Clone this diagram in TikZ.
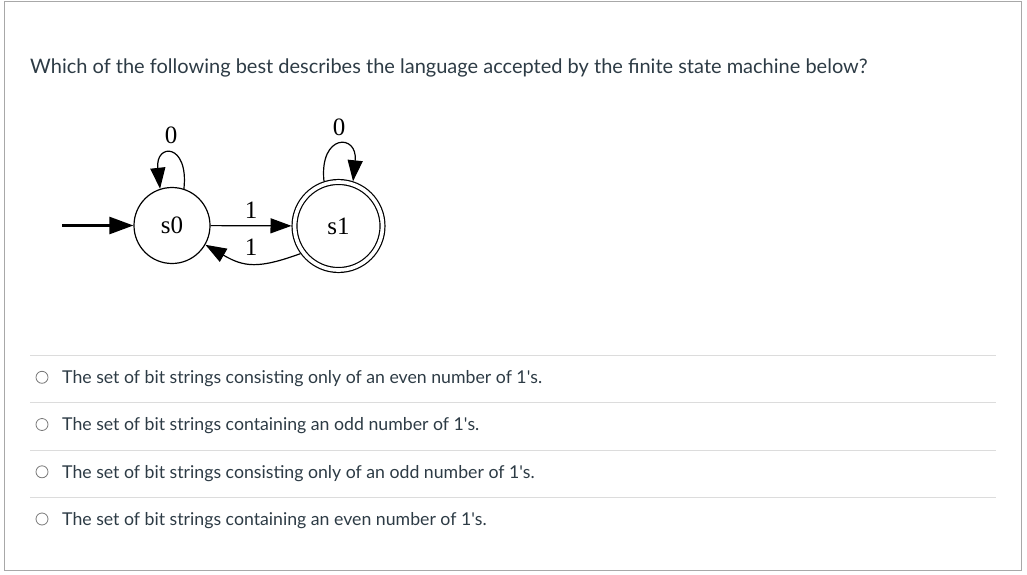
\documentclass[tikz,border=0pt]{standalone}
\usepackage{fontspec}
\setmainfont{Lato}
\newfontfamily\graphfont{Liberation Serif}
\usetikzlibrary{arrows.meta}

\definecolor{canvastext}{HTML}{2D3B45}
\definecolor{framegray}{HTML}{A8A8A8}
\definecolor{rulegray}{HTML}{DCDCDC}
\definecolor{radiogray}{HTML}{7A7A7A}

\tikzset{
	state/.style={circle, draw, line width=1.2pt, minimum size=76pt, inner sep=0pt, font=\graphfont\fontsize{25}{25}\selectfont},
	finalstate/.style={state, minimum size=88pt, double, double distance=3.7pt, outer sep=3pt},
	trans/.style={-{Triangle[length=21pt,width=15pt]}, line width=1.2pt},
	initarrow/.style={-{Triangle[length=24pt,width=17pt]}, line width=2.6pt},
	lbl/.style={font=\graphfont\fontsize{25}{25}\selectfont, inner sep=0pt},
	question/.style={anchor=base west, inner sep=0pt, text=canvastext, font=\fontsize{20}{24}\selectfont},
	option/.style={anchor=base west, inner sep=0pt, text=canvastext, font=\fontsize{17.7}{21}\selectfont},
	radio/.style={circle, draw=radiogray, line width=0.8pt, minimum size=12pt, inner sep=0pt},
	divider/.style={rulegray, line width=1pt}
}

\begin{document}
\begin{tikzpicture}[x=1pt, y=1pt]
	\useasboundingbox (0,0) rectangle (1027,-575);
	\draw[framegray, line width=1pt] (4.5,-1.5) rectangle (1021.5,-570);

	\node[question] (q) at (30,-74) {Which of the following best describes the language accepted by the finite state machine below?};

	% the machine
	\node[state] (s0) at (172,-225.5) {s0};
	\node[finalstate] (s1) at (338.5,-226) {s1};
	\coordinate (init) at (62,-225.5);
	\draw[initarrow] (init) -- (s0);
	\draw[trans] (s0.72) .. controls +(5,46) and +(-5,46) .. (s0.108);
	\draw[trans] (s1.108) .. controls +(-5,48) and +(5,48) .. (s1.72);
	\draw[trans] (s0) -- (s1);
	\draw[trans] (s1.216) to[out=200, in=-30, looseness=1.2] (s0.330);
	\node[lbl] (l00) at (171,-135) {0};
	\node[lbl] (l11) at (339,-127) {0};
	\node[lbl] (l01) at (251,-210) {1};
	\node[lbl] (l10) at (251,-247) {1};

	% answers
	\draw[divider] (30,-355) -- (996,-355);
	\node[radio] (r1) at (42,-377.3) {};
	\node[option] (a1) at (62,-383) {The set of bit strings consisting only of an even number of 1\textquotesingle s.};
	\draw[divider] (30,-402.3) -- (996,-402.3);
	\node[radio] (r2) at (42,-424.5) {};
	\node[option] (a2) at (62,-430) {The set of bit strings containing an odd number of 1\textquotesingle s.};
	\draw[divider] (30,-450) -- (996,-450);
	\node[radio] (r3) at (42,-471.8) {};
	\node[option] (a3) at (62,-478) {The set of bit strings consisting only of an odd number of 1\textquotesingle s.};
	\draw[divider] (30,-497.3) -- (996,-497.3);
	\node[radio] (r4) at (42,-519) {};
	\node[option] (a4) at (62,-525) {The set of bit strings containing an even number of 1\textquotesingle s.};
\end{tikzpicture}
\end{document}
